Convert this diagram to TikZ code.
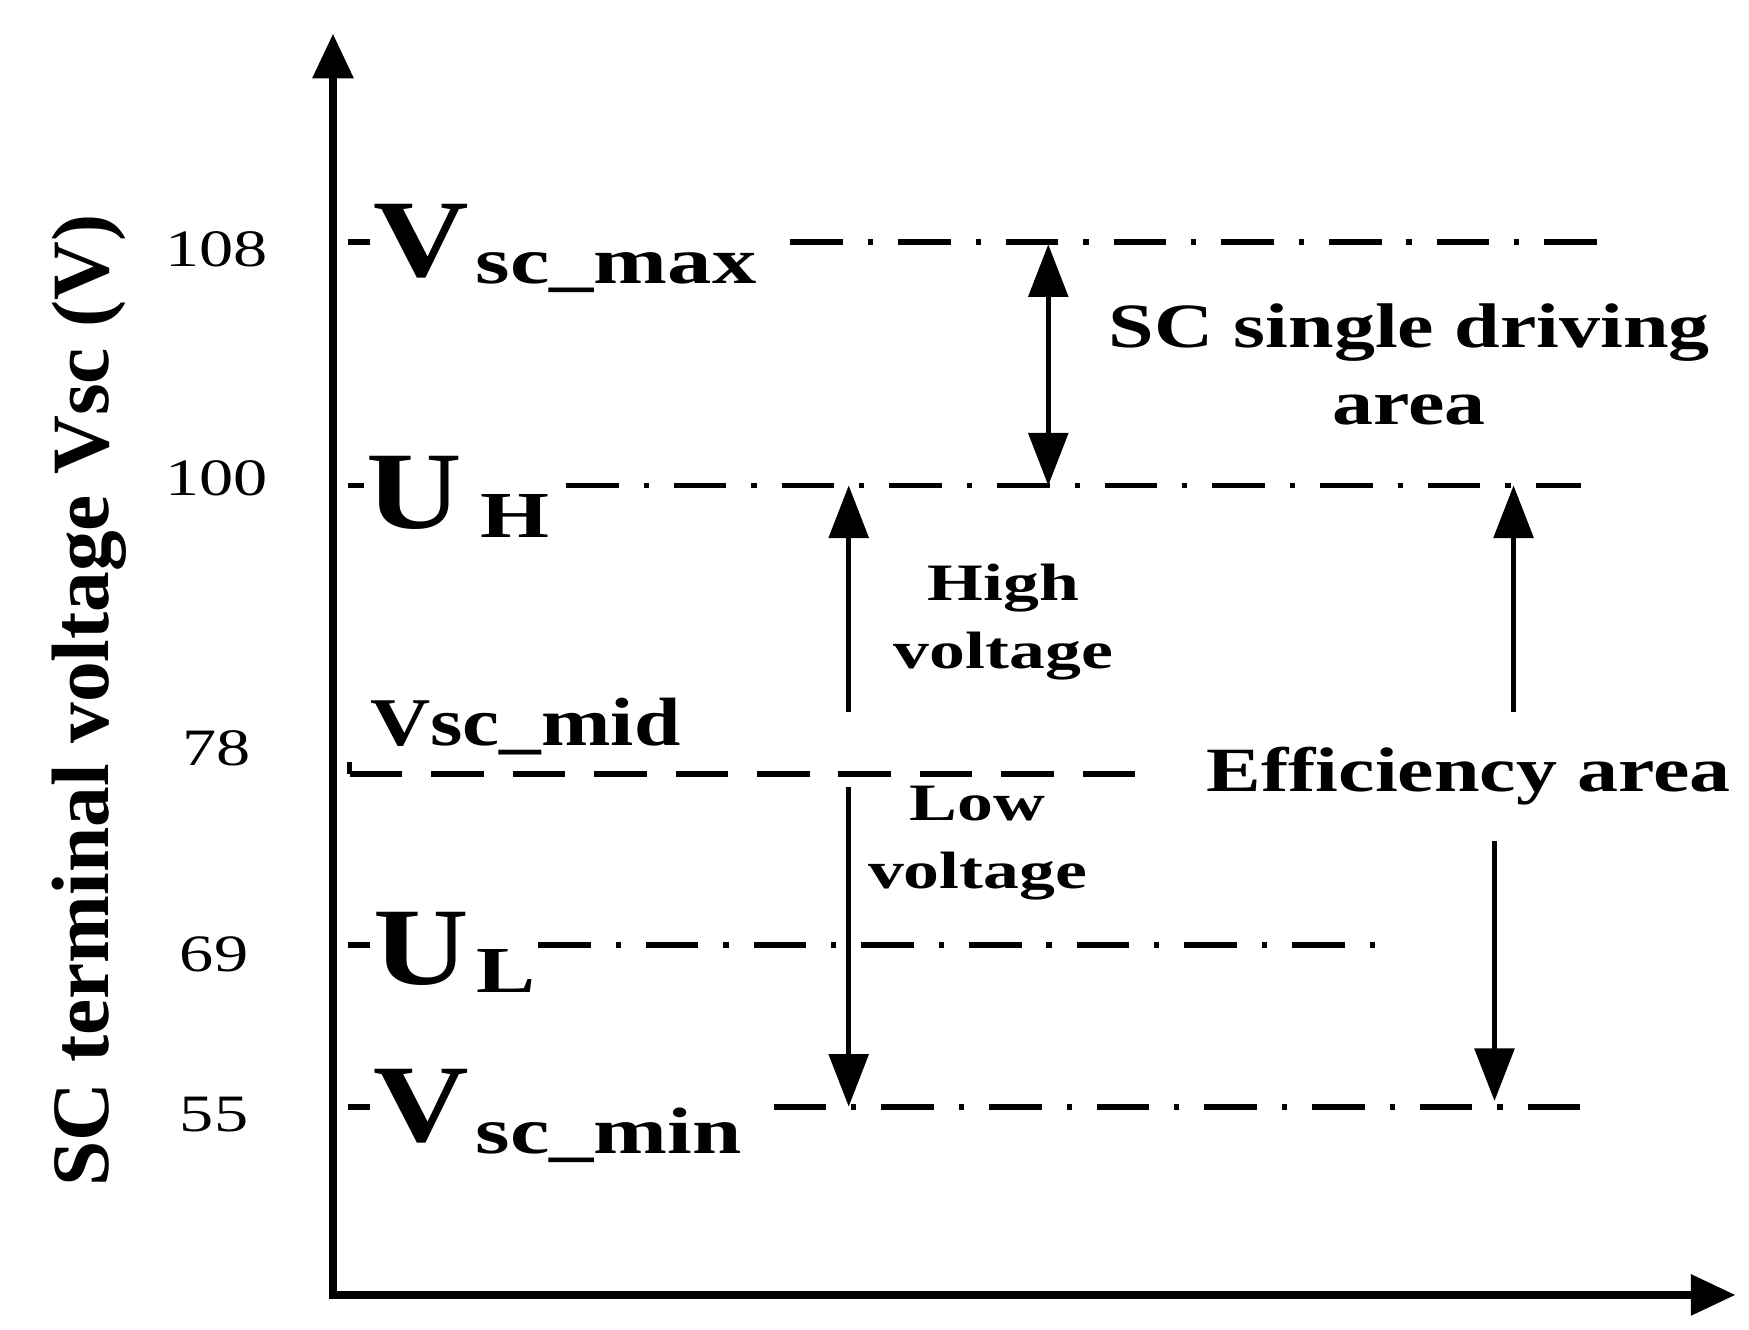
\documentclass[tikz,border=0pt]{standalone}
\usepackage{fontspec}
\setmainfont{Liberation Serif}
\usetikzlibrary{arrows.meta}
\newcommand{\fs}[1]{\fontsize{#1}{#1}\selectfont}
\begin{document}
\begin{tikzpicture}[x=0.03cm,y=-0.03cm,
  axis/.style={line width=6pt,-{Triangle[length=34pt,width=30pt]}},
  dd/.style={line width=4.5pt,dash pattern=on 40pt off 19pt on 4pt off 19pt},
  dsh/.style={line width=4.5pt,dash pattern=on 40pt off 22pt},
  arr/.style={line width=3.5pt,-{Triangle[length=40pt,width=30pt]}},
  darr/.style={line width=3.5pt,{Triangle[length=40pt,width=30pt]}-{Triangle[length=40pt,width=30pt]}},
  tick/.style={font=\fs{40pt},xscale=1.3},
  lab/.style={align=center,inner sep=0pt,xscale=1.3},
  big/.style={font=\bfseries\fs{84pt},inner sep=0pt,anchor=west,xscale=1.2},
  sub/.style={font=\bfseries\fs{50pt},inner sep=0pt,anchor=west,xscale=1.35}]
\useasboundingbox (0,0) rectangle (1560,1186);
% axes
\coordinate (O) at (297,1155);
\coordinate (Ytop) at (297,30);
\coordinate (Xend) at (1548,1155);
\draw[axis] (O) -- (Ytop);
\draw[axis] ([xshift=-3pt]O) -- (Xend);
\node[rotate=90,font=\bfseries\fs{62pt}] (ylab) at (80,625) {SC terminal voltage Vsc (V)};
% ticks
\node[tick] (t108) at (193,222) {108};
\node[tick] (t100) at (193,427) {100};
\node[tick] (t78) at (193,667) {78};
\node[tick] (t69) at (191,851) {69};
\node[tick] (t55) at (191,994) {55};
% level lines
\coordinate (a1) at (310,216); \coordinate (a2) at (330,216);
\coordinate (a3) at (705,216); \coordinate (a4) at (1425,216);
\draw[line width=4.5pt] (a1) -- (a2);
\draw[dd] (a3) -- (a4);
\coordinate (b1) at (310,433); \coordinate (b2) at (325,433);
\coordinate (b3) at (505,433); \coordinate (b4) at (1410,433);
\draw[line width=4.5pt] (b1) -- (b2);
\draw[dd] (b3) -- (b4);
\coordinate (c0) at (312,680); \coordinate (c1) at (312,690); \coordinate (c2) at (1025,690);
\draw[line width=4pt] (c0) -- (c1);
\draw[dsh] (c1) -- (c2);
\coordinate (d1) at (310,843); \coordinate (d2) at (330,843);
\coordinate (d3) at (480,843); \coordinate (d4) at (1240,843);
\draw[line width=4.5pt] (d1) -- (d2);
\draw[dd] (d3) -- (d4);
\coordinate (e1) at (310,987); \coordinate (e2) at (330,987);
\coordinate (e3) at (690,987); \coordinate (e4) at (1425,987);
\draw[line width=4.5pt] (e1) -- (e2);
\draw[dd] (e3) -- (e4);
% level labels
\node[big] (vmax) at (333,215) {V};
\node[sub] (vmaxs) at (424,243) {sc\_max};
\node[big] (uh) at (327,440) {U};
\node[sub] (uhs) at (428,460) {H};
\node[font=\bfseries\fs{52pt},inner sep=0pt,anchor=west,xscale=1.22] (vmid) at (330,648) {Vsc\_mid};
\node[big] (ul) at (333,846) {U};
\node[sub] (uls) at (425,866) {L};
\node[big] (vmin) at (333,987) {V};
\node[sub] (vmins) at (424,1013) {sc\_min};
% arrows
\coordinate (p1) at (935,218); \coordinate (p2) at (935,433);
\draw[darr] (p1) -- (p2);
\coordinate (q1) at (757,635); \coordinate (q2) at (757,433);
\draw[arr] (q1) -- (q2);
\coordinate (r1) at (757,702); \coordinate (r2) at (757,987);
\draw[arr] (r1) -- (r2);
\coordinate (s1) at (1350,635); \coordinate (s2) at (1350,433);
\draw[arr] (s1) -- (s2);
\coordinate (u1) at (1333,750); \coordinate (u2) at (1333,982);
\draw[arr] (u1) -- (u2);
% area texts
\node[lab,font=\bfseries\fs{48pt}] (sc) at (1257,325) {SC single driving\\[10pt]area};
\node[lab,font=\bfseries\fs{40pt},xscale=1.05] (hv) at (895,555) {High\\[12pt]voltage};
\node[lab,font=\bfseries\fs{40pt},xscale=1.05] (lv) at (872,752) {Low\\[12pt]voltage};
\node[lab,font=\bfseries\fs{48pt}] (eff) at (1310,692) {Efficiency area};
\end{tikzpicture}
\end{document}
